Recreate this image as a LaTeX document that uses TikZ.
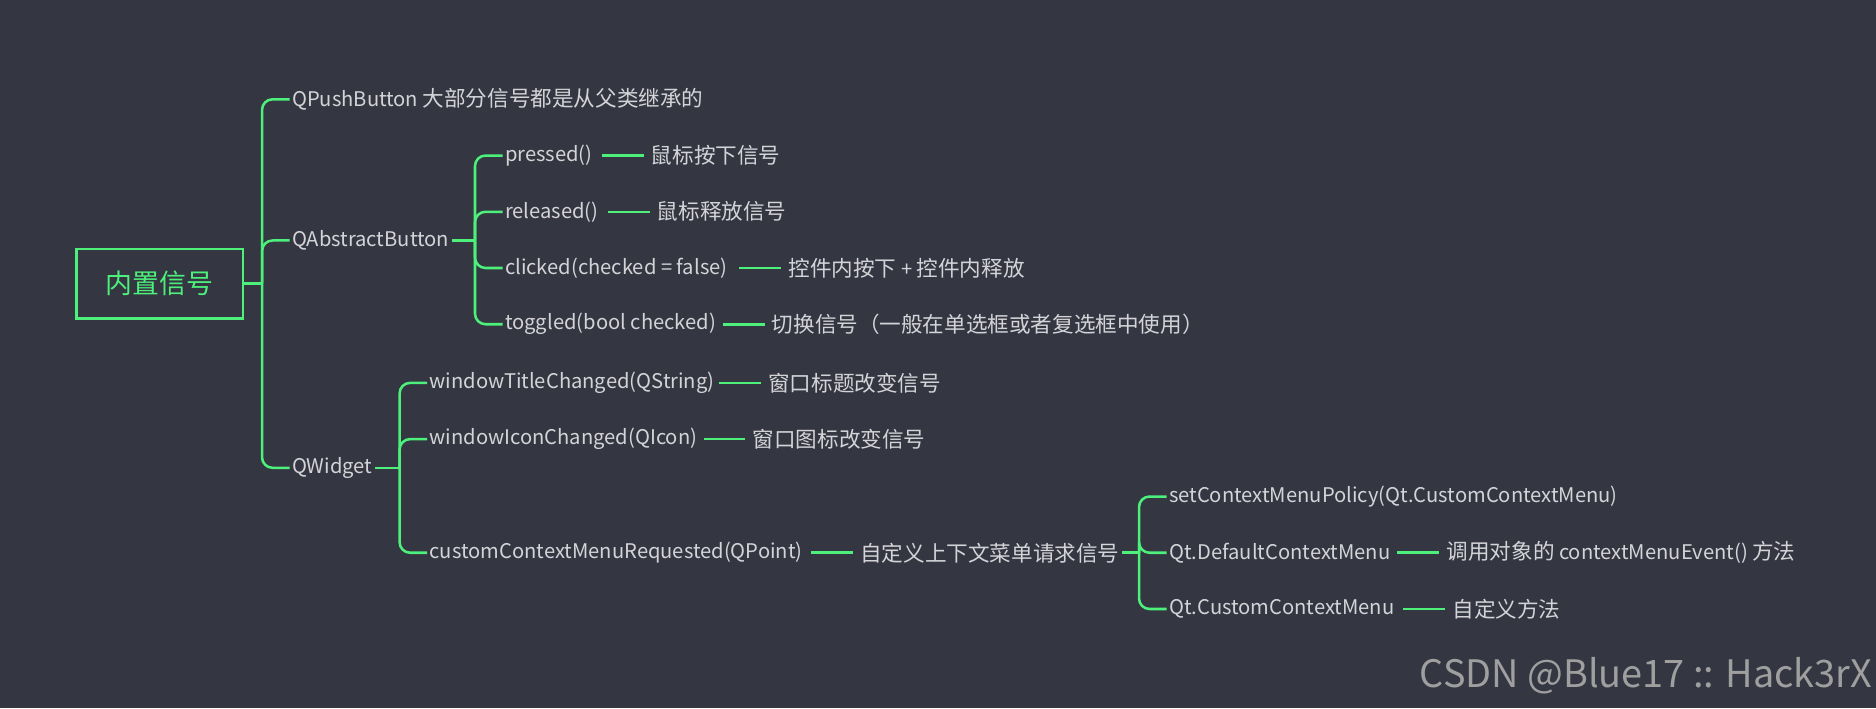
\documentclass[tikz,border=0pt]{standalone}
\usepackage{fontspec}
\setmainfont{Noto Sans CJK SC}
\newfontfamily\cj{Noto Sans CJK SC}[Scale=1.07]
\definecolor{bg}{HTML}{343642}
\definecolor{gr}{HTML}{4CF07A}
\definecolor{tx}{HTML}{D4D4D8}
\begin{document}
\begin{tikzpicture}[x=0.02cm,y=-0.02cm,
  t/.style={anchor=west,inner sep=1pt,text=tx,font=\fontsize{9.6}{11}\selectfont},
  c/.style={draw=gr,line width=1.2pt,rounded corners=5pt},
  lk/.style={draw=gr,line width=1.2pt}]
\fill[bg] (0,0) rectangle (1568,592);
\node[draw=gr,line width=1.2pt,minimum width=139*0.02cm,minimum height=58*0.02cm,text=gr,font=\fontsize{12.8}{14}\selectfont] (root) at (133.5,237) {内置信号};
\node[t] (a) at (242,83) {QPushButton {\cj 大部分信号都是从父类继承的}};
\node[t] (b) at (242,201) {QAbstractButton};
\node[t] (w) at (242,391) {QWidget};
\coordinate (r1) at (219,237);
\draw[c] (root.east) -- (r1);
\foreach \n in {a,b,w} \draw[c] (r1) |- (\n.west);
% QAbstractButton children
\node[t] (b1) at (420,130) {pressed()};
\node[t] (b2) at (420,177) {released()};
\node[t] (b3) at (420,224) {clicked(checked = false)};
\node[t] (b4) at (420,271) {toggled(bool checked)};
\coordinate (r2) at (397,201);
\draw[c] (b.east) -- (r2);
\foreach \n in {b1,b2,b3,b4} \draw[c] (r2) |- (\n.west);
\node[t] (b1t) at (542,130) {\cj 鼠标按下信号};
\node[t] (b2t) at (547,177) {\cj 鼠标释放信号};
\node[t] (b3t) at (657,224) {{\cj 控件内按下} + {\cj 控件内释放}};
\node[t] (b4t) at (643,271) {\cj 切换信号（一般在单选框或者复选框中使用）};
\foreach \n in {b1,b2,b3,b4} \draw[lk] ([xshift=-39*0.02cm]\n t.west) -- ([xshift=-4*0.02cm]\n t.west);
% QWidget children
\node[t] (w1) at (357,320) {windowTitleChanged(QString)};
\node[t] (w2) at (357,367) {windowIconChanged(QIcon)};
\node[t] (w3) at (357,462) {customContextMenuRequested(QPoint)};
\coordinate (r3) at (334,391);
\draw[c] (w.east) -- (r3);
\foreach \n in {w1,w2,w3} \draw[c] (r3) |- (\n.west);
\node[t] (w1t) at (640,320) {\cj 窗口标题改变信号};
\node[t] (w2t) at (627,367) {\cj 窗口图标改变信号};
\node[t] (w3t) at (717,462) {\cj 自定义上下文菜单请求信号};
\foreach \n in {w1,w2,w3} \draw[lk] ([xshift=-39*0.02cm]\n t.west) -- ([xshift=-4*0.02cm]\n t.west);
% custom children
\node[t] (c1) at (975,415) {setContextMenuPolicy(Qt.CustomContextMenu)};
\node[t] (c2) at (975,462) {Qt.DefaultContextMenu};
\node[t] (c3) at (975,509) {Qt.CustomContextMenu};
\coordinate (r4) at (952,462);
\draw[c] (w3t.east) -- (r4);
\foreach \n in {c1,c2,c3} \draw[c] (r4) |- (\n.west);
\node[t] (c2t) at (1207,462) {{\cj 调用对象的} contextMenuEvent() {\cj 方法}};
\node[t] (c3t) at (1212,509) {\cj 自定义方法};
\foreach \n in {c2,c3} \draw[lk] ([xshift=-39*0.02cm]\n t.west) -- ([xshift=-4*0.02cm]\n t.west);
\node[anchor=east,inner sep=0pt,text=gray!75!white,font=\fontsize{18}{20}\selectfont] (wm) at (1565,565) {CSDN @Blue17 :: Hack3rX};
\end{tikzpicture}
\end{document}
